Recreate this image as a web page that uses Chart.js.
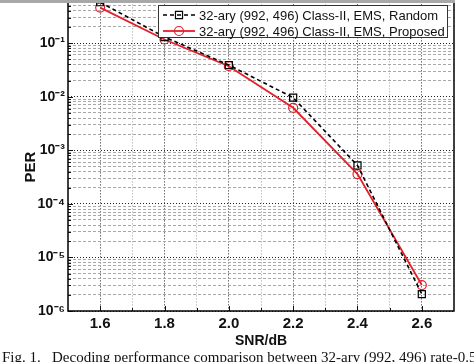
<!DOCTYPE html>
<html><head><meta charset="utf-8">
<script src="https://cdn.jsdelivr.net/npm/chart.js@4/dist/chart.umd.min.js"></script>
<style>
html,body{margin:0;padding:0;background:#fff;overflow:hidden;width:474px;height:362px;position:relative;}
#wrap{position:absolute;left:0;top:-40px;width:474px;height:402px;}
#band{position:absolute;left:0;top:0;width:455px;height:3px;background:#a8a8a8;z-index:2}
#cap{position:absolute;left:2px;top:349px;font-family:"Liberation Serif",serif;font-size:15px;white-space:nowrap;color:#111;z-index:3}
</style></head><body>
<div id="wrap"><canvas id="c" width="474" height="402"></canvas></div>
<div id="band"></div>
<div id="cap">Fig. 1.&nbsp;&nbsp;&nbsp;Decoding performance comparison between 32-ary (992, 496) rate-0.5</div>
<script>
const snrValues = [1.6, 1.8, 2.0, 2.2, 2.4, 2.6];
const perRandom = [0.58, 0.13, 0.039, 0.0096, 0.00052, 2.07e-6];
const perProposed = [0.46, 0.117, 0.037, 0.0062, 0.00036, 3.05e-6];
const xMajorTicks = [1.6, 1.8, 2.0, 2.2, 2.4, 2.6];
const xMinorTicks = [1.7, 1.9, 2.1, 2.3, 2.5];
const yDecadeExponents = [-6, -5, -4, -3, -2, -1, 0];
const seriesLabels = ['32-ary (992, 496) Class-II, EMS, Random', '32-ary (992, 496) Class-II, EMS, Proposed'];
const xTitle = 'SNR/dB';
const yTitle = 'PER';

const SUP = {'-':'\u207B','0':'\u2070','1':'\u00B9','2':'\u00B2','3':'\u00B3','4':'\u2074','5':'\u2075','6':'\u2076','7':'\u2077','8':'\u2078','9':'\u2079'};
const yMajorValues = yDecadeExponents.map(e => Math.pow(10, e));
const yMinorValues = [];
yDecadeExponents.forEach(e => { for (let m = 2; m <= 9; m++) yMinorValues.push(m * Math.pow(10, e)); });

const FONT = '"Liberation Sans", Arial, sans-serif';

const frameTicks = {
  id: 'frameTicks',
  afterDatasetsDraw(chart) {
    const {ctx, chartArea: a, scales} = chart;
    ctx.save();
    ctx.strokeStyle = '#111';
    ctx.lineWidth = 1;
    const tick = (scale, len, horiz) => {
      scale.ticks.forEach(t => {
        const p = Math.round(scale.getPixelForValue(t.value)) + 0.5;
        if (!horiz && (p < a.top || p > a.bottom + 1)) return;
        ctx.beginPath();
        if (horiz) { ctx.moveTo(p, a.bottom); ctx.lineTo(p, a.bottom - len); }
        else { ctx.moveTo(a.left, p); ctx.lineTo(a.left + len, p); }
        ctx.stroke();
      });
    };
    tick(scales.x, 5, true); tick(scales.xm, 3, true);
    tick(scales.y, 5, false); tick(scales.ym, 3, false);
    ctx.lineWidth = 1.5;
    ctx.strokeStyle = '#000';
    ctx.strokeRect(a.left, a.top, a.right - a.left, a.bottom - a.top);
    // y axis title, placed where the reference shows it
    ctx.save();
    ctx.translate(31, 207);
    ctx.rotate(-Math.PI / 2);
    ctx.font = 'bold 15px ' + FONT;
    ctx.fillStyle = '#111';
    ctx.textAlign = 'center';
    ctx.textBaseline = 'middle';
    ctx.fillText(yTitle, 0, 0);
    ctx.restore();
    ctx.restore();
  }
};

const boxLegend = {
  id: 'boxLegend',
  afterDraw(chart) {
    const ctx = chart.ctx;
    const ds = chart.data.datasets;
    const x0 = 158, y0 = 45, w = 289, h = 32;
    ctx.save();
    ctx.fillStyle = '#fff';
    ctx.fillRect(x0, y0, w, h);
    ctx.strokeStyle = '#333'; ctx.lineWidth = 1;
    ctx.strokeRect(x0 + 0.5, y0 + 0.5, w, h);
    ds.forEach((d, i) => {
      const cy = y0 + 10 + i * 16;
      ctx.strokeStyle = d.borderColor; ctx.lineWidth = d.borderWidth;
      ctx.setLineDash(d.borderDash || []);
      ctx.beginPath(); ctx.moveTo(x0 + 5, cy); ctx.lineTo(x0 + 37, cy); ctx.stroke();
      ctx.setLineDash([]);
      ctx.fillStyle = 'rgba(255,255,255,0)';
      ctx.strokeStyle = d.pointBorderColor; ctx.lineWidth = d.pointBorderWidth;
      Chart.helpers.drawPoint(ctx, {pointStyle: d.pointStyle, radius: d.pointRadius, borderWidth: d.pointBorderWidth, rotation: 0}, x0 + 21, cy);
      ctx.fillStyle = '#111';
      ctx.font = '13px ' + FONT;
      ctx.textBaseline = 'middle';
      ctx.fillText(d.label, x0 + 41, cy + 1);
    });
    ctx.restore();
  }
};

new Chart(document.getElementById('c'), {
  type: 'line',
  data: {
    datasets: [
      {
        label: seriesLabels[0],
        data: snrValues.map((x, i) => ({x, y: perRandom[i]})),
        borderColor: '#000', borderWidth: 1.6, borderDash: [4, 3],
        pointStyle: 'rect', pointRadius: 5, pointBorderColor: '#000', pointBorderWidth: 1.2,
        pointBackgroundColor: 'rgba(255,255,255,0)', fill: false, tension: 0
      },
      {
        label: seriesLabels[1],
        data: snrValues.map((x, i) => ({x, y: perProposed[i]})),
        borderColor: '#e3202c', borderWidth: 1.8,
        pointStyle: 'circle', pointRadius: 4.5, pointBorderColor: '#e3202c', pointBorderWidth: 1.2,
        pointBackgroundColor: 'rgba(255,255,255,0)', fill: false, tension: 0
      }
    ]
  },
  options: {
    responsive: false, animation: false, devicePixelRatio: 1,
    layout: {padding: {top: 11, right: 20, left: 0, bottom: 0}},
    plugins: {legend: {display: false}, tooltip: {enabled: false}},
    scales: {
      x: {
        type: 'linear', position: 'bottom', min: 1.5, max: 2.7,
        afterBuildTicks: s => { s.ticks = xMajorTicks.map(v => ({value: v})); },
        afterFit: s => { s.height = 51; },
        ticks: {callback: v => Number(v).toFixed(1), font: {family: FONT, size: 15, weight: 'bold'}, color: '#111', padding: 4, maxRotation: 0, autoSkip: false},
        grid: {color: '#222', lineWidth: 1, drawTicks: false},
        border: {display: false, dash: [1, 2]},
        title: {display: true, text: xTitle, font: {family: FONT, size: 14, weight: 'bold'}, color: '#111', padding: {top: 0, bottom: 12}}
      },
      xm: {
        type: 'linear', position: 'bottom', min: 1.5, max: 2.7,
        afterBuildTicks: s => { s.ticks = xMinorTicks.map(v => ({value: v})); },
        afterFit: s => { s.height = 0; },
        ticks: {display: false},
        grid: {color: '#a0a0a0', lineWidth: 1, drawTicks: false},
        border: {display: false, dash: [1, 2]}
      },
      y: {
        type: 'logarithmic', position: 'left', min: 1e-6, max: 2.18,
        afterBuildTicks: s => { s.ticks = yMajorValues.map(v => ({value: v})); },
        afterFit: s => { s.width = 68; },
        ticks: {
          callback: v => { const e = Math.round(Math.log10(v)); if (e === 0) return ''; return '10' + String(e).split('').map(c => SUP[c]).join(''); },
          font: {family: FONT, size: 14, weight: 'bold'}, color: '#111', padding: 3, autoSkip: false
        },
        grid: {color: '#222', lineWidth: 1, drawTicks: false},
        border: {display: false, dash: [1, 2]},
        title: {display: false}
      },
      ym: {
        type: 'logarithmic', position: 'left', min: 1e-6, max: 2.18,
        afterBuildTicks: s => { s.ticks = yMinorValues.map(v => ({value: v})); },
        afterFit: s => { s.width = 0; },
        ticks: {display: false},
        grid: {color: '#a8a8a8', lineWidth: 1, drawTicks: false},
        border: {display: false, dash: [3, 2]}
      }
    }
  },
  plugins: [frameTicks, boxLegend]
});
</script>
</body></html>
